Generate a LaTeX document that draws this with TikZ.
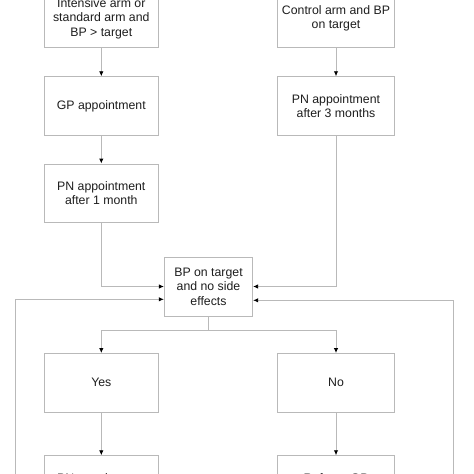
\documentclass[tikz,border=0pt]{standalone}
\usepackage{fontspec}
\setmainfont{Liberation Sans}
\usetikzlibrary{arrows.meta}
\definecolor{linegray}{RGB}{185,185,185}
\definecolor{txt}{RGB}{30,30,30}
\tikzset{
  box/.style={draw=linegray, line width=0.9pt, fill=white, minimum width=114pt, minimum height=58.6pt, align=center, inner sep=0pt, text=txt, font=\fontsize{12.3}{14.5}\selectfont},
  wbox/.style={box, minimum width=117.4pt},
  cbox/.style={box, minimum width=88.4pt, minimum height=58.3pt},
  conn/.style={draw=linegray, line width=0.9pt},
  arr/.style={conn, -{Latex[length=5pt,width=4.5pt,color=black,fill=black]}},
  lbl/.style={text=txt, font=\fontsize{12.3}{14.5}\selectfont, inner sep=0pt, anchor=base}
}
\begin{document}
\begin{tikzpicture}[x=1pt,y=-1pt]
\useasboundingbox (0,0) rectangle (474,474);
\clip (0,0) rectangle (474,474);
\fill[white] (0,0) rectangle (474,474);
% nodes
\node[box] (tl) at (101.3,18.5) {Intensive arm or\\standard arm and\\BP > target};
\node[box] (gp) at (101.3,106) {GP appointment};
\node[box] (pn1) at (101.3,193.3) {PN appointment\\after 1 month};
\node[wbox] (tr) at (336,18.3) {Control arm and BP\\on target};
\node[wbox] (pn3) at (336,106) {PN appointment\\after 3 months};
\node[cbox] (bp) at (208.5,286.8) {BP on target\\and no side\\effects};
\node[box] (yes) at (101.3,382.8) {Yes};
\node[wbox] (no) at (336,382.8) {No};
\node[box] (bl) at (101.3,485) {};
\node[wbox] (br) at (336,485) {};
\node[lbl] (bltxt) at (101.3,482) {PN appointment};
\node[lbl] (brtxt) at (336,482) {Refer to GP};
% helper coordinates
\coordinate (split) at (208.5,330.3);
\coordinate (lfb) at (15.7,520);
\coordinate (rfb) at (453,520);
% connectors
\draw[arr] (tl) -- (gp);
\draw[arr] (gp) -- (pn1);
\draw[arr] (tr) -- (pn3);
\draw[arr] (pn1.south) |- ([yshift=0.3pt]bp.west);
\draw[arr] (pn3.south) |- ([yshift=0.3pt]bp.east);
\draw[arr] (lfb) |- ([yshift=-12.5pt]bp.west);
\draw[arr] (rfb) |- ([yshift=-13.5pt]bp.east);
\draw[conn] (bp.south) -- (split);
\draw[arr] (split) -| (yes.north);
\draw[arr] (split) -| (no.north);
\draw[arr] (yes) -- (bl);
\draw[arr] (no) -- (br);
\end{tikzpicture}
\end{document}
